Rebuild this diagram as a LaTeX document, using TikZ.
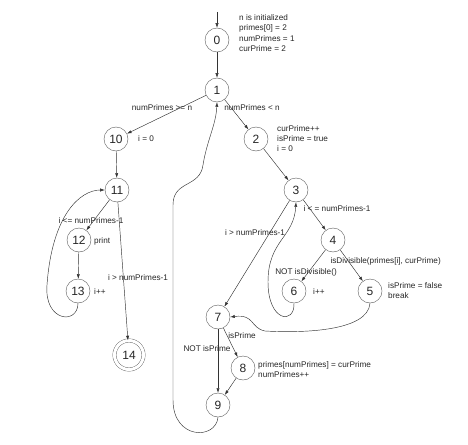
\documentclass[tikz,border=0pt]{standalone}
\usepackage{fontspec}
\setmainfont{Liberation Sans}
\usetikzlibrary{arrows.meta}

\begin{document}
\begin{tikzpicture}[x=1pt, y=-1pt, >={Latex[length=1.6mm, width=1.1mm]},
	every node/.style={font=\fontsize{8.2}{10.3}\selectfont, text=black!85},
	state/.style={circle, draw=black!65, minimum size=24pt, inner sep=0pt, font=\fontsize{12}{14}\selectfont},
	note/.style={anchor=west, align=left, inner sep=1pt},
	flow/.style={->, draw=black!80, line width=0.45pt}]
	\useasboundingbox (0,0) rectangle (468,444);
	% states
	\node[state] (s0) at (217,40) {0};
	\node[state] (s1) at (217,90) {1};
	\node[state] (s10) at (116,139) {10};
	\node[state] (s2) at (256,139) {2};
	\node[state] (s11) at (117,190) {11};
	\node[state] (s3) at (296,190) {3};
	\node[state] (s12) at (79,240) {12};
	\node[state] (s4) at (333,240) {4};
	\node[state] (s13) at (78,291) {13};
	\node[state] (s6) at (294,291) {6};
	\node[state] (s5) at (370,291) {5};
	\node[state, double, double distance=3pt, minimum size=29pt] (s14) at (129,355) {14};
	\node[state] (s7) at (218,317) {7};
	\node[state] (s8) at (243,368) {8};
	\node[state] (s9) at (218,405) {9};
	\coordinate (start) at (217,12);
	% notes beside the states
	\node[note, anchor=north west] (n0) at (238,13.5) {n is initialized\\primes[0] = 2\\numPrimes = 1\\curPrime = 2};
	\node[note] (n10) at (137,139) {i = 0};
	\node[note, anchor=north west] (n2) at (276,124) {curPrime++\\isPrime = true\\i = 0};
	\node[note] (n12) at (93,241) {print};
	\node[note] (n13) at (93,292) {i++};
	\node[note] (n6) at (312,292) {i++};
	\node[note, anchor=north west] (n5) at (387,281) {isPrime = false\\break};
	\node[note, anchor=north west] (n8) at (257,360) {primes[numPrimes] = curPrime\\numPrimes++};
	% transitions
	\draw[flow] (start) -- (s0);
	\draw[flow] (s0) -- (s1);
	\draw[flow] (s1) -- (s10);
	\draw[flow] (s1) -- (s2);
	\draw[flow] (s10) -- (s11);
	\draw[flow] (s2) -- (s3);
	\draw[flow] (s11) -- (s12);
	\draw[flow] (s12) -- (s13);
	\draw[flow] (s11) -- (s14);
	\draw[flow] (s3) -- (s4);
	\draw[flow] (s3) -- (s7);
	\draw[flow] (s4) -- (s6);
	\draw[flow] (s4) -- (s5);
	\draw[flow] (s7) -- (s9);
	\draw[flow] (s7) -- (s8);
	\draw[flow] (s8) -- (s9);
	\draw[flow] (s13.south) .. controls (78,325) and (44,322) .. (47,285) .. controls (52,215) and (80,190) .. (s11.west);
	\draw[flow] (s6.south) .. controls (295,325) and (268,322) .. (268,282) .. controls (268,240) and (294,238) .. (s3.south);
	\draw[flow] (s5.south) .. controls (368,332) and (300,333) .. (265,331) .. controls (250,328) and (255,314) .. (s7.east);
	\draw[flow] (s9.south) .. controls (216,440) and (173,440) .. (173,400) -- (173,205) .. controls (173,180) and (200,188) .. (203,165) .. controls (207,140) and (216,125) .. (s1.south);
	% labels on the transitions
	\node (l1a) at (162,108) {numPrimes >= n};
	\node (l1b) at (252,108) {numPrimes < n};
	\node (l11a) at (91,221) {i <= numPrimes-1};
	\node (l11b) at (138,278) {i > numPrimes-1};
	\node (l3a) at (337,209) {i < = numPrimes-1};
	\node (l3b) at (255,233) {i > numPrimes-1};
	\node[anchor=west] (l4a) at (327,261) {isDivisible(primes[i], curPrime)};
	\node (l4b) at (306,272) {NOT isDivisible()};
	\node (l7a) at (242,336) {isPrime};
	\node (l7b) at (207,349) {NOT isPrime};
\end{tikzpicture}
\end{document}
